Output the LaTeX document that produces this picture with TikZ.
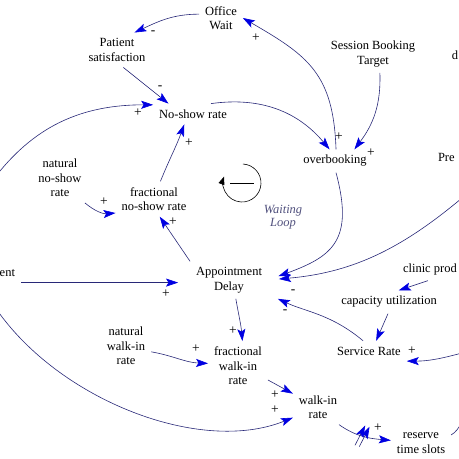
\documentclass[tikz,border=0pt]{standalone}
\usepackage{fontspec}
\setmainfont{Liberation Serif}
\usetikzlibrary{arrows.meta,decorations.markings}
\definecolor{cldnavy}{RGB}{40,40,120}
\definecolor{cldblue}{RGB}{0,0,225}
\definecolor{cldgrey}{RGB}{80,80,125}
\tikzset{
    cld-var/.style = {align=center, inner sep=2pt, outer sep=4pt, font=\fontsize{12.5}{14.5}\selectfont},
    cld-link/.style = {draw=cldnavy, line width=0.6pt, -{Stealth[length=12pt, width=8pt, inset=2.5pt, color=cldblue]}},
    cld-sign/.style = {inner sep=0pt, font=\fontsize{13.5}{13.5}\selectfont},
    cld-delay/.style = {postaction={decorate}, decoration={markings, mark=at position 0.45 with {\draw[cldnavy, line width=0.6pt] (-3pt,-11pt) -- (1pt,11pt); \draw[cldnavy, line width=0.6pt] (1.5pt,-11pt) -- (5.5pt,11pt);}}},
}
\begin{document}
\begin{tikzpicture}[x=1pt, y=1pt]
\useasboundingbox (0,0) rectangle (459,-459);
\clip (0,0) rectangle (459,-459);
\node[cld-var] (ow) at (221,-18) {Office\\Wait};
\node[cld-var] (ps) at (117,-50) {Patient\\satisfaction};
\node[cld-var] (sbt) at (373,-54) {Session Booking\\Target};
\node[cld-var] (dd) at (455,-55) {d};
\node[cld-var] (nsr) at (193,-114) {No-show rate};
\node[cld-var] (ob) at (335,-161) {overbooking};
\node[cld-var, anchor=west] (pre) at (432,-157) {Pre};
\node[cld-var] (nns) at (60,-178) {natural\\no-show\\rate};
\node[cld-var] (fns) at (154,-199) {fractional\\no-show rate};
\node[cld-var, anchor=east] (ent) at (21,-273) {ent};
\node[cld-var] (ad) at (229,-280) {Appointment\\Delay};
\node[cld-var, anchor=west] (cp) at (397,-269) {clinic prod};
\node[cld-var] (cu) at (389,-302) {capacity utilization};
\node[cld-var] (sr) at (369,-351) {Service Rate};
\node[cld-var] (nwr) at (126,-346) {natural\\walk-in\\rate};
\node[cld-var] (fwr) at (238,-366) {fractional\\walk-in\\rate};
\node[cld-var] (wr) at (318,-407) {walk-in\\rate};
\node[cld-var] (rts) at (421,-443) {reserve\\time slots};
\node[cld-var, text=cldgrey, font=\fontsize{12.5}{13.5}\selectfont\itshape] (wl) at (283,-217) {Waiting\\Loop};
\coordinate (lft1) at (-4,-176);
\coordinate (lft2) at (-3,-310);
\coordinate (rgt1) at (462,-198);
\coordinate (rgt2) at (462,-353);
\coordinate (rgt3) at (470,-414);

\draw[cld-link] (ob.85) to[out=92, in=-30, looseness=1.2] (ow.east);
\draw[cld-link] (ow.170) to[out=180, in=25] (ps.45);
\draw[cld-link] (ps.-70) -- (nsr.157);
\draw[cld-link] (lft1) to[out=52, in=180] (nsr.167);
\draw[cld-link] (nsr.30) to[out=8, in=130] (ob.115);
\draw[cld-link] (sbt.-70) to[out=-88, in=53] (ob.31);
\draw[cld-link] (fns.70) to[out=68, in=-110] (nsr.-130);
\draw[cld-link] (nns.-45) to[out=-40, in=185] (fns.200);
\draw[cld-link] (ad.north west) -- (fns.-72);
\draw[cld-link, shorten >=12pt] (ent.south east) -- (ent.south east -| ad.west);
\draw[cld-link, shorten >=11pt] (ob.-85) to[out=-75, in=20, looseness=1.4] (ad.east);
\draw[cld-link, shorten >=11pt] (rgt1) to[out=220, in=5] (ad.east);
\draw[cld-link, shorten >=11pt] (sr.120) to[out=140, in=-25] (ad.-20);
\draw[cld-link] (cp.-100) -- (cu.50);
\draw[cld-link] (cu.-95) -- (sr.55);
\draw[cld-link] (rgt2) to[out=195, in=0] (sr.-15);
\draw[cld-link] (ad.-70) to[out=-80, in=95] (fwr.80);
\draw[cld-link] (nwr.-13) to[out=-10, in=178] (fwr.175);
\draw[cld-link] (fwr.-25) -- (wr.152);
\draw[cld-link] (lft2) .. controls (60,-400) and (200,-455) .. (wr.203);
\draw[cld-link, cld-delay] (wr.-40) to[out=-35, in=175] (rts.175);
\draw[cldnavy, line width=0.6pt] (rts.15) to[out=30, in=210] (rgt3);

\foreach \px/\py/\sgn [count=\i] in {256/-38/+, 153/-33/-, 160/-88/-, 138/-113/+, 339/-137/+, 371/-153/+, 189/-143/+, 104/-202/+, 173/-222/+, 166/-294/+, 293/-292/-, 285/-312/-, 412/-351/+, 233/-331/+, 196/-349/+, 275/-395/+, 275/-410/+, 378/-428/+}
    \node[cld-sign] (sg\i) at (\px,\py) {\sgn};

\draw[line width=0.6pt, -{Triangle[length=8pt, width=6pt]}] (242,-183) ++(87:19) arc[start angle=87, end angle=-200, radius=19];
\draw[line width=0.8pt] (230,-183) -- (254,-183);
\end{tikzpicture}
\end{document}
